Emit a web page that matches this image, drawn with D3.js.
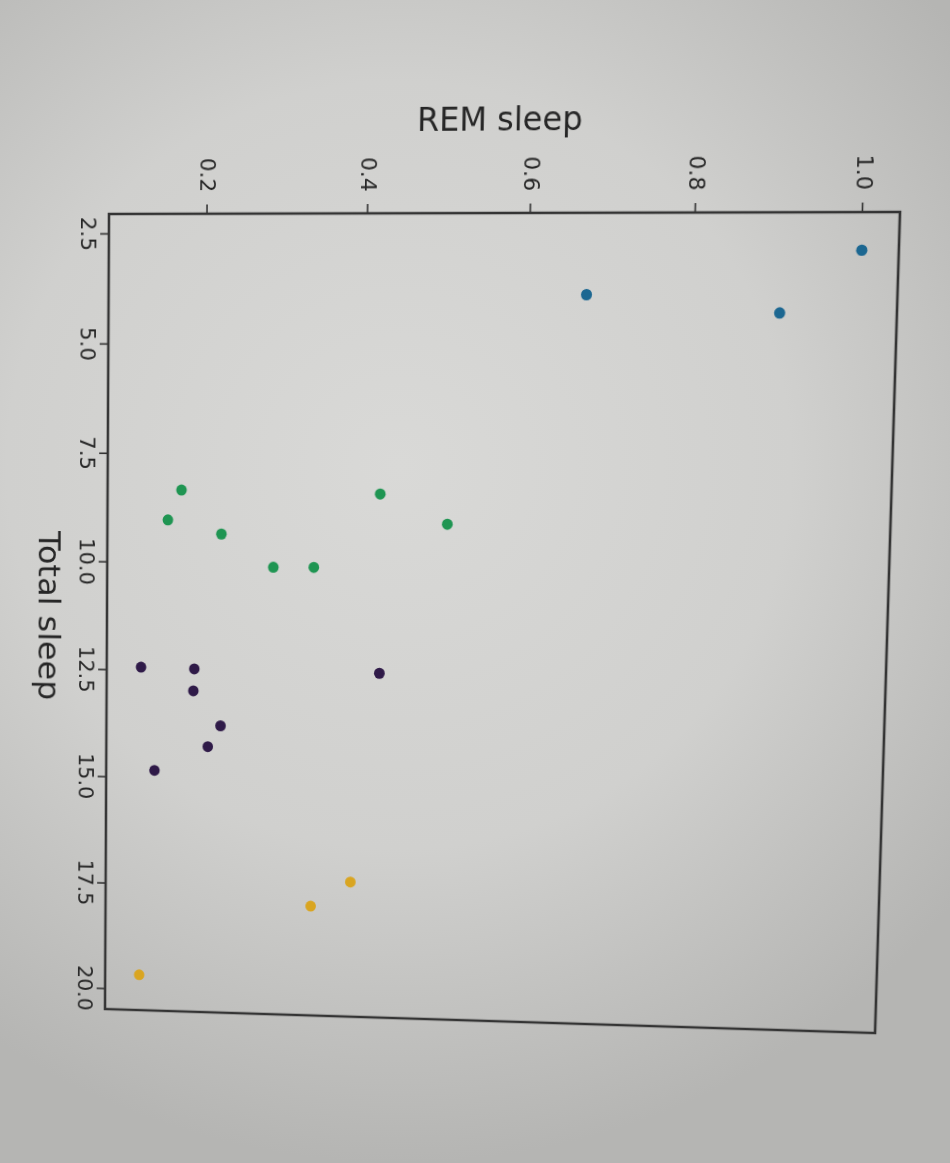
<!DOCTYPE html>
<html>
<head>
<meta charset="utf-8">
<script src="https://cdn.jsdelivr.net/npm/d3@7"></script>
<style>
    html, body { margin: 0; padding: 0; width: 950px; height: 1163px; overflow: hidden; }
    body { background: radial-gradient(ellipse 75% 60% at 42% 40%, #d9d9d7 0%, #d0d0ce 55%, #b5b5b3 100%); }
    #photo { position: absolute; left: 0; top: 0; width: 950px; height: 1163px; transform-origin: 0 0; }
    svg text { font-family: "DejaVu Sans", sans-serif; fill: #262626; }
</style>
</head>
<body>
<div id="photo"><svg id="chart"></svg></div>
<script>
// values (chart is shown turned a quarter clockwise)
const totalSleep = [2.9, 4.28, 3.88,
                    8.34, 9.03, 9.34, 10.09, 10.08, 8.39, 9.06,
                    12.44, 12.46, 12.97, 13.77, 14.26, 14.84, 12.49,
                    17.34, 17.93, 19.66]
const remSleep = [1.0, 0.904, 0.67,
                  0.17, 0.153, 0.221, 0.287, 0.338, 0.42, 0.504,
                  0.12, 0.188, 0.187, 0.222, 0.206, 0.138, 0.422,
                  0.389, 0.339, 0.12]
const cluster = [1, 1, 1,
                 2, 2, 2, 2, 2, 2, 2,
                 0, 0, 0, 0, 0, 0, 0,
                 3, 3, 3]
const clusterColors = ["#2f1a48", "#1c6791", "#1f9552", "#d9a521"]
const xTicks = [2.5, 5.0, 7.5, 10.0, 12.5, 15.0, 17.5, 20.0]
const yTicks = [0.2, 0.4, 0.6, 0.8, 1.0]
const xLabel = "Total sleep"
const yLabel = "REM sleep"

// frame of the plot on screen before the photo distortion
const frame = { left: 107, top: 213, right: 900, bottom: 1009 }
// where the photo puts the four corners (TL, TR, BR, BL)
const photoCorners = [[109, 214], [900, 212], [875, 1033], [105, 1009]]

function quadMatrix(L, T, W, H, q) {
    const [x0, y0] = q[0], [x1, y1] = q[1], [x2, y2] = q[2], [x3, y3] = q[3]
    const dx1 = x1 - x2, dx2 = x3 - x2, dx3 = x0 - x1 + x2 - x3
    const dy1 = y1 - y2, dy2 = y3 - y2, dy3 = y0 - y1 + y2 - y3
    const den = dx1 * dy2 - dx2 * dy1
    const g = (dx3 * dy2 - dx2 * dy3) / den
    const h = (dx1 * dy3 - dx3 * dy1) / den
    const a = x1 - x0 + g * x1, b = x3 - x0 + h * x3, c = x0
    const d = y1 - y0 + g * y1, e = y3 - y0 + h * y3, f = y0
    const A = a / W, B = b / H, C = c - a * L / W - b * T / H
    const D = d / W, E = e / H, F = f - d * L / W - e * T / H
    const G = g / W, Hh = h / H, I = 1 - g * L / W - h * T / H
    const n = v => v.toFixed(9)
    return `matrix3d(${n(A)},${n(D)},0,${n(G)},${n(B)},${n(E)},0,${n(Hh)},0,0,1,0,${n(C)},${n(F)},0,${n(I)})`
}

const svg = d3.select("#chart")
    .attr("width", 950)
    .attr("height", 1163)

// local (unturned) chart size
const width = frame.bottom - frame.top
const height = frame.right - frame.left

const chart = svg.append("g")
    .attr("transform", `translate(${frame.right},${frame.top}) rotate(90)`)

// matplotlib style 5% margins
const xExt = d3.extent(totalSleep), yExt = d3.extent(remSleep)
const xPad = (xExt[1] - xExt[0]) * 0.05, yPad = (yExt[1] - yExt[0]) * 0.05

const xscl = d3.scaleLinear()
    .domain([xExt[0] - xPad, xExt[1] + xPad])
    .range([0, width])

const yscl = d3.scaleLinear()
    .domain([yExt[0] - yPad, yExt[1] + yPad])
    .range([height, 0])

const x_axis = d3.axisBottom(xscl)
    .tickValues(xTicks)
    .tickFormat(d3.format(".1f"))
    .tickSize(9)
    .tickPadding(5)

const y_axis = d3.axisLeft(yscl)
    .tickValues(yTicks)
    .tickFormat(d3.format(".1f"))
    .tickSize(9)
    .tickPadding(12)

chart.append("g")
    .attr("class", "xaxis")
    .attr("transform", `translate(0,${height})`)
    .call(x_axis)

chart.append("g")
    .attr("class", "yaxis")
    .call(y_axis)

chart.selectAll(".domain").remove()
chart.selectAll(".tick line")
    .attr("stroke", "#333")
    .attr("stroke-width", 1.6)
chart.selectAll(".tick text")
    .style("font-size", "21px")

chart.append("rect")
    .attr("width", width)
    .attr("height", height)
    .attr("fill", "none")
    .attr("stroke", "#343434")
    .attr("stroke-width", 2.6)

chart.selectAll(".dot")
    .data(d3.range(totalSleep.length))
    .enter().append("circle")
    .attr("class", "dot")
    .attr("cx", i => xscl(totalSleep[i]))
    .attr("cy", i => yscl(remSleep[i]))
    .attr("r", 5.5)
    .attr("fill", i => clusterColors[cluster[i]])

chart.append("text")
    .attr("x", width / 2)
    .attr("y", height + 72)
    .attr("text-anchor", "middle")
    .style("font-size", "32px")
    .text(xLabel)

chart.append("text")
    .attr("transform", `translate(-79,${height / 2}) rotate(-90)`)
    .attr("text-anchor", "middle")
    .style("font-size", "32px")
    .text(yLabel)

d3.select("#photo")
    .style("transform", quadMatrix(frame.left, frame.top, frame.right - frame.left, frame.bottom - frame.top, photoCorners))
</script>
</body>
</html>
